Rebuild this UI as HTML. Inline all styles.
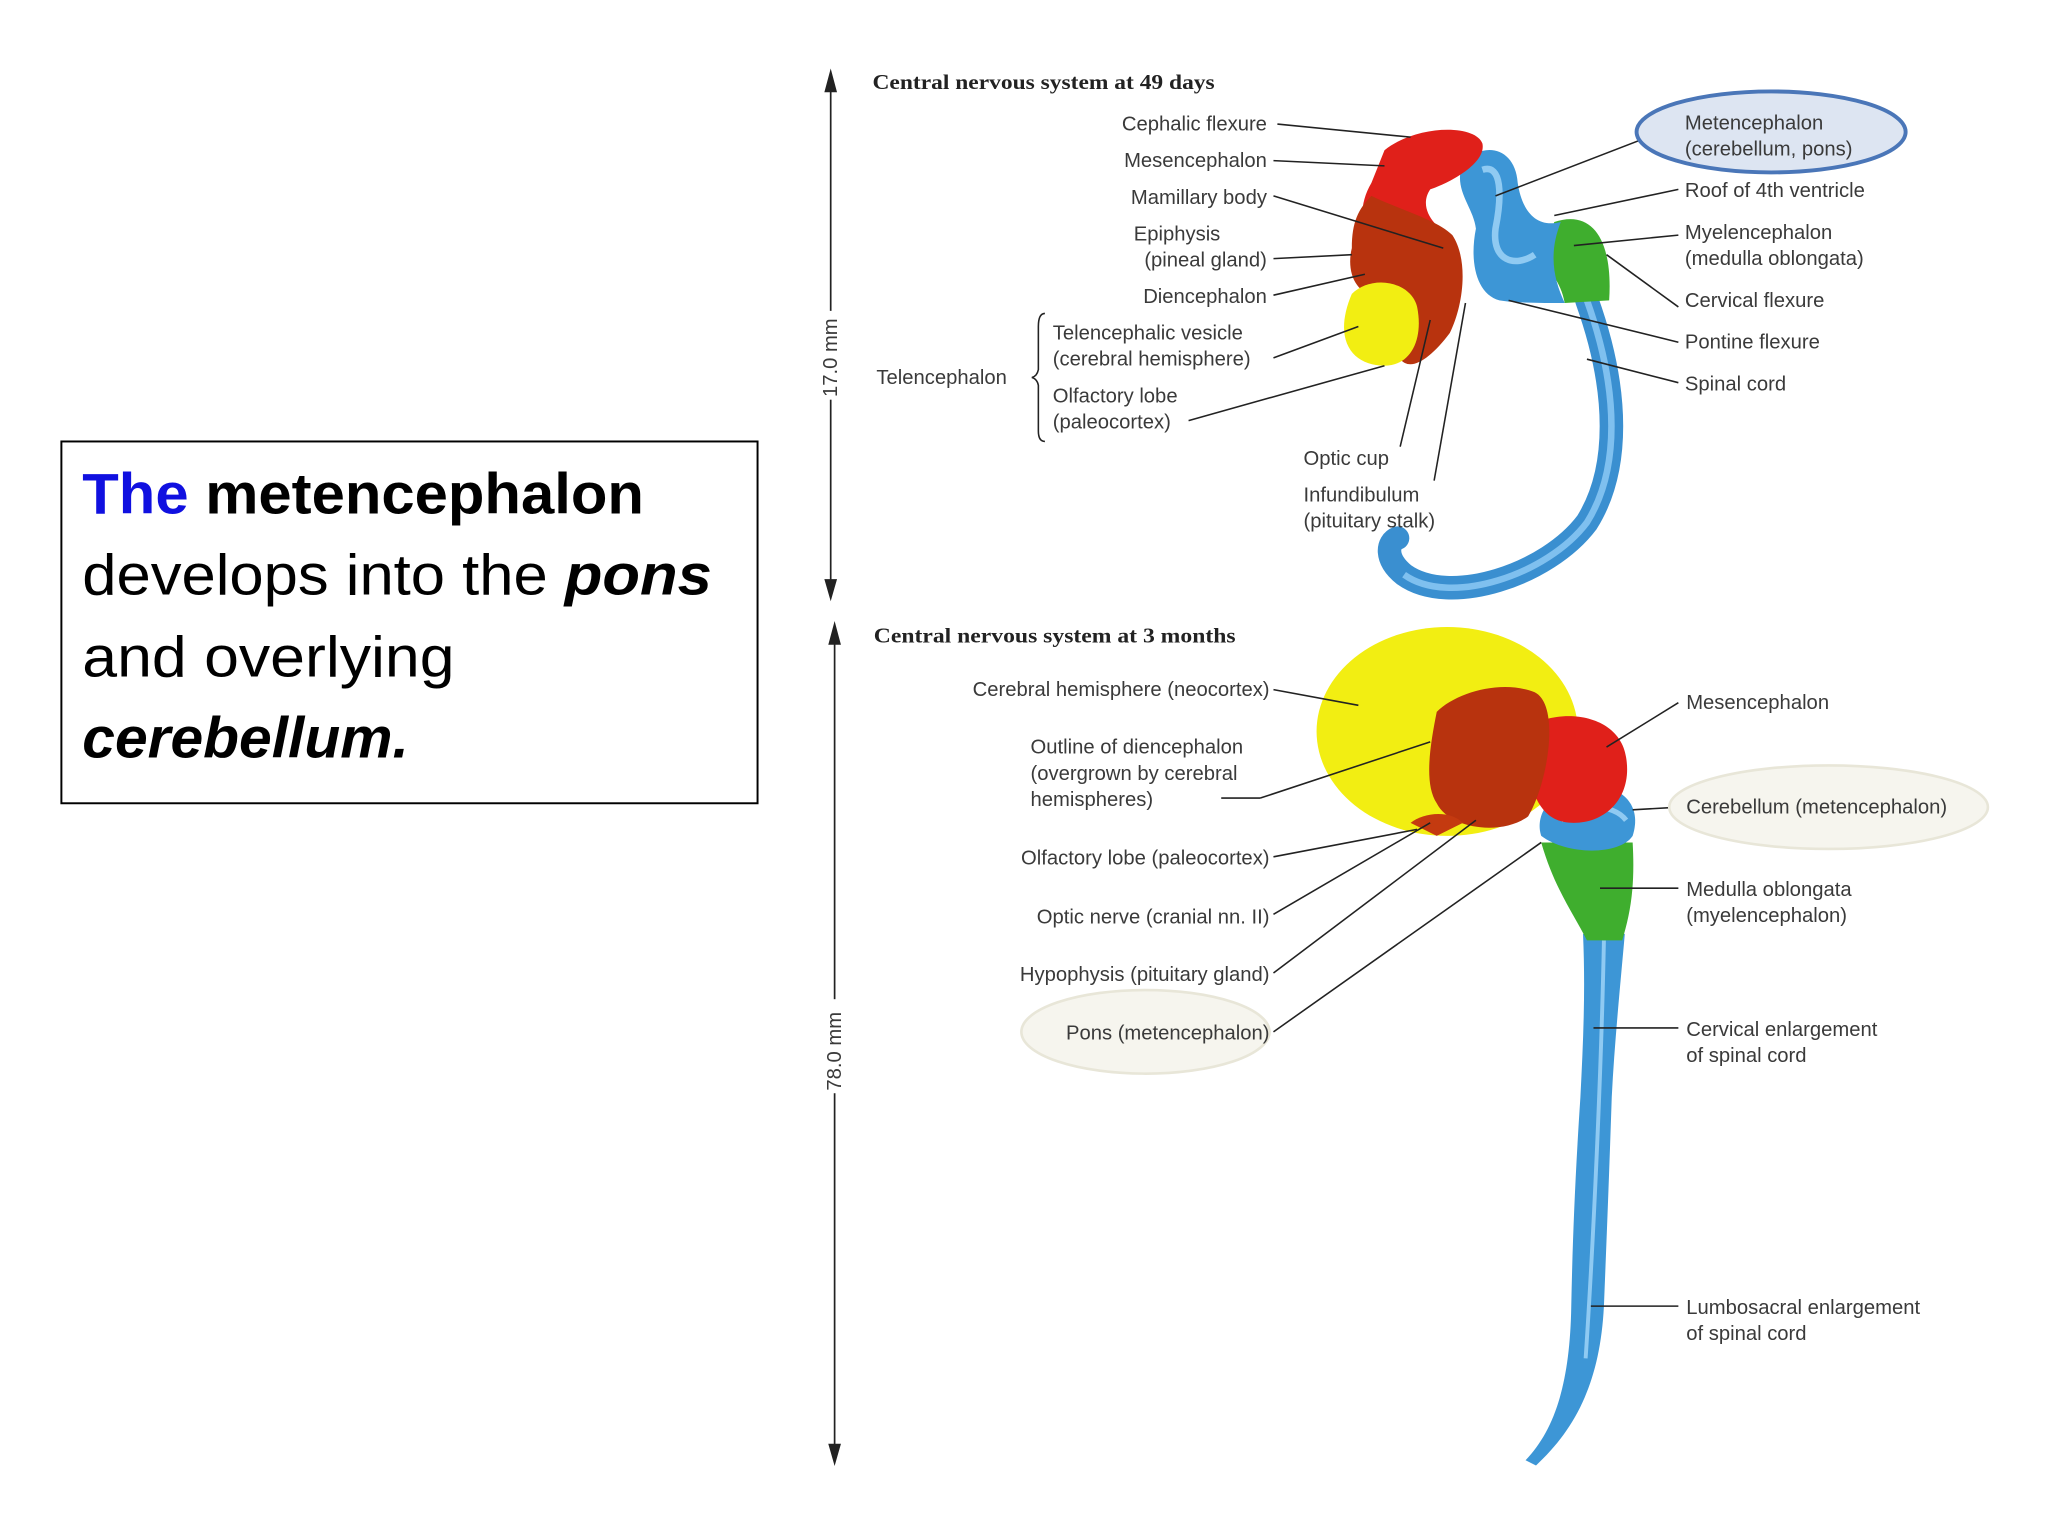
<!DOCTYPE html>
<html><head><meta charset="utf-8"><style>
html,body{margin:0;padding:0;background:#fff;}
svg{display:block}
.l{font-family:"Liberation Sans",sans-serif;font-size:15.5px;fill:#3a3a3a}
.r{text-anchor:end}
.ln{stroke:#222;stroke-width:1.2;fill:none}
</style></head><body>
<svg width="2048" height="1536" viewBox="0 0 1568 1176" xmlns="http://www.w3.org/2000/svg">
<rect width="1568" height="1176" fill="#fff"/>
<rect x="47" y="338" width="533" height="277" fill="#fff" stroke="#000" stroke-width="1.5"/>
<g font-family="Liberation Sans, sans-serif" font-size="44" fill="#000">
<text x="63" y="393" textLength="430" lengthAdjust="spacingAndGlyphs"><tspan fill="#1010e0" font-weight="bold">The</tspan><tspan font-weight="bold"> metencephalon</tspan></text>
<text x="63" y="455" textLength="482" lengthAdjust="spacingAndGlyphs">develops into the <tspan font-weight="bold" font-style="italic">pons</tspan></text>
<text x="63" y="518" textLength="285" lengthAdjust="spacingAndGlyphs">and overlying</text>
<text x="63" y="580" font-weight="bold" font-style="italic" textLength="250" lengthAdjust="spacingAndGlyphs">cerebellum.</text>
</g>
<g stroke="#222" stroke-width="1.3" fill="#222">
<line x1="636" y1="62" x2="636" y2="452"/>
<path d="M636 55 L632 70 L640 70Z"/><path d="M636 458 L632 444 L640 444Z"/>
<line x1="639" y1="486" x2="639" y2="1114"/>
<path d="M639 478 L635 493 L643 493Z"/><path d="M639 1120 L635 1106 L643 1106Z"/>
</g>
<rect x="628" y="238" width="16" height="68" fill="#fff"/>
<text class="l" transform="translate(641,304) rotate(-90)" font-size="14">17.0 mm</text>
<rect x="631" y="765" width="16" height="72" fill="#fff"/>
<text class="l" transform="translate(644,835) rotate(-90)" font-size="14">78.0 mm</text>

<text x="668" y="68" font-family="Liberation Serif,serif" font-weight="bold" font-size="16" fill="#222" textLength="262" lengthAdjust="spacingAndGlyphs">Central nervous system at 49 days</text>
<text x="669" y="492" font-family="Liberation Serif,serif" font-weight="bold" font-size="16" fill="#222" textLength="277" lengthAdjust="spacingAndGlyphs">Central nervous system at 3 months</text>

<!-- TOP FIGURE -->
<path d="M1215 230 C1240 300 1240 360 1215 400 C1185 440 1110 465 1075 440 C1060 428 1062 415 1070 412" stroke="#3a8fd0" stroke-width="18" fill="none" stroke-linecap="round"/>
<path d="M1215 230 C1240 300 1240 360 1215 400 C1185 440 1110 465 1075 440" stroke="#7fc0ef" stroke-width="5" fill="none"/>
<path d="M1190 170 C1220 160 1235 185 1232 230 L1198 232 C1195 215 1185 205 1178 200Z" fill="#3fae2e"/>
<path d="M1120 125 C1135 108 1160 112 1162 140 C1165 160 1175 175 1195 170 C1185 195 1190 215 1198 232 L1210 232 L1200 232 C1180 232 1160 232 1148 230 C1130 225 1125 200 1130 175 C1128 158 1112 145 1120 125Z" fill="#3d96d6"/>
<path d="M1135 130 C1150 125 1150 150 1145 175 C1142 200 1160 205 1175 195" stroke="#8fcaf2" stroke-width="5" fill="none"/>
<path d="M1060 115 C1085 95 1130 95 1135 110 C1138 125 1110 140 1095 145 C1085 160 1100 175 1110 180 L1070 205 C1045 195 1035 165 1050 140Z" fill="#e0201a"/>
<path d="M1050 150 C1070 160 1100 168 1112 180 C1125 200 1120 235 1110 255 C1095 275 1080 285 1072 275 L1060 225 C1040 230 1030 210 1035 190 C1035 170 1040 160 1050 150Z" fill="#b8330e"/>
<path d="M1035 225 C1050 210 1080 215 1085 235 C1090 260 1080 280 1060 280 C1035 280 1020 260 1035 225Z" fill="#f2ee12"/>
<g class="ln">
<line x1="978" y1="95" x2="1080" y2="105"/>
<line x1="975" y1="123" x2="1060" y2="127"/>
<line x1="975" y1="150" x2="1105" y2="190"/>
<line x1="975" y1="198" x2="1035" y2="195"/>
<line x1="975" y1="226" x2="1045" y2="210"/>
<line x1="975" y1="274" x2="1040" y2="250"/>
<line x1="910" y1="322" x2="1060" y2="280"/>
<line x1="1072" y1="342" x2="1095" y2="245"/>
<line x1="1098" y1="368" x2="1122" y2="232"/>
<line x1="1285" y1="96" x2="1145" y2="150"/>
<line x1="1285" y1="145" x2="1190" y2="165"/>
<line x1="1285" y1="180" x2="1205" y2="188"/>
<line x1="1285" y1="235" x2="1230" y2="195"/>
<line x1="1285" y1="262" x2="1155" y2="230"/>
<line x1="1285" y1="293" x2="1215" y2="275"/>
</g>
<path d="M800 240 Q795 240 795 250 L795 283 Q794 288 790 289 Q794 290 795 295 L795 330 Q795 338 800 338" class="ln"/>
<text class="l r" x="970" y="100">Cephalic flexure</text>
<text class="l r" x="970" y="128">Mesencephalon</text>
<text class="l r" x="970" y="156">Mamillary body</text>
<text class="l" x="868" y="184">Epiphysis</text>
<text class="l r" x="970" y="204">(pineal gland)</text>
<text class="l r" x="970" y="232">Diencephalon</text>
<text class="l" x="806" y="260">Telencephalic vesicle</text>
<text class="l" x="806" y="280">(cerebral hemisphere)</text>
<text class="l" x="806" y="308">Olfactory lobe</text>
<text class="l" x="806" y="328">(paleocortex)</text>
<text class="l" x="671" y="294">Telencephalon</text>
<text class="l" x="998" y="356">Optic cup</text>
<text class="l" x="998" y="384">Infundibulum</text>
<text class="l" x="998" y="404">(pituitary stalk)</text>
<ellipse cx="1356" cy="101" rx="103" ry="31" fill="#dde5f2" stroke="#4a76b8" stroke-width="3"/>
<text class="l" x="1290" y="99">Metencephalon</text>
<text class="l" x="1290" y="119">(cerebellum, pons)</text>
<text class="l" x="1290" y="151">Roof of 4th ventricle</text>
<text class="l" x="1290" y="183">Myelencephalon</text>
<text class="l" x="1290" y="203">(medulla oblongata)</text>
<text class="l" x="1290" y="235">Cervical flexure</text>
<text class="l" x="1290" y="267">Pontine flexure</text>
<text class="l" x="1290" y="299">Spinal cord</text>

<!-- BOTTOM FIGURE -->
<path d="M1212 715 C1214 760 1212 800 1210 840 C1206 900 1204 950 1203 1000 C1202 1060 1190 1095 1168 1118 L1176 1122 C1205 1095 1225 1060 1228 1000 C1230 950 1232 900 1234 840 C1236 800 1240 760 1244 715Z" fill="#3d96d6"/>
<path d="M1228 720 C1226 820 1220 950 1214 1040" stroke="#8fcaf2" stroke-width="3" fill="none"/>
<path d="M1180 645 L1250 645 C1252 680 1248 700 1242 720 L1215 720 C1205 700 1190 680 1180 645Z" fill="#3fae2e"/>
<ellipse cx="1108" cy="560" rx="100" ry="80" fill="#f2ee12"/>
<path d="M1180 640 C1175 625 1185 605 1215 602 C1240 600 1258 615 1250 640 C1240 655 1200 655 1180 640Z" fill="#3d96d6"/>
<path d="M1195 628 C1210 615 1235 615 1245 628" stroke="#8fcaf2" stroke-width="4" fill="none"/>
<path d="M1165 560 C1190 540 1240 545 1245 580 C1250 610 1230 630 1205 630 C1180 630 1170 610 1165 560Z" fill="#e0201a"/>
<path d="M1100 545 C1115 530 1150 520 1175 530 C1195 540 1185 600 1170 625 C1150 640 1110 635 1100 615 C1090 600 1095 570 1100 545Z" fill="#b8330e"/>
<path d="M1080 630 C1090 622 1110 620 1120 630 L1100 640Z" fill="#c43a10"/>
<g class="ln">
<line x1="975" y1="528" x2="1040" y2="540"/>
<line x1="935" y1="611" x2="965" y2="611"/>
<line x1="965" y1="611" x2="1095" y2="568"/>
<line x1="975" y1="656" x2="1085" y2="635"/>
<line x1="975" y1="700" x2="1095" y2="630"/>
<line x1="975" y1="745" x2="1130" y2="628"/>
<line x1="975" y1="790" x2="1180" y2="645"/>
<line x1="1285" y1="538" x2="1230" y2="572"/>
<line x1="1285" y1="618" x2="1250" y2="620"/>
<line x1="1285" y1="680" x2="1225" y2="680"/>
<line x1="1285" y1="787" x2="1220" y2="787"/>
<line x1="1285" y1="1000" x2="1218" y2="1000"/>
</g>
<ellipse cx="877" cy="790" rx="95" ry="32" fill="#f6f5ee" stroke="#e8e6d8" stroke-width="2"/>
<ellipse cx="1400" cy="618" rx="122" ry="32" fill="#f6f5ee" stroke="#e8e6d8" stroke-width="2"/>
<text class="l r" x="972" y="533">Cerebral hemisphere (neocortex)</text>
<text class="l" x="789" y="577">Outline of diencephalon</text>
<text class="l" x="789" y="597">(overgrown by cerebral</text>
<text class="l" x="789" y="617">hemispheres)</text>
<text class="l r" x="972" y="662">Olfactory lobe (paleocortex)</text>
<text class="l r" x="972" y="707">Optic nerve (cranial nn. II)</text>
<text class="l r" x="972" y="751">Hypophysis (pituitary gland)</text>
<text class="l r" x="972" y="796" fill="#555">Pons (metencephalon)</text>
<text class="l" x="1291" y="543">Mesencephalon</text>
<text class="l" x="1291" y="623" fill="#555">Cerebellum (metencephalon)</text>
<text class="l" x="1291" y="686">Medulla oblongata</text>
<text class="l" x="1291" y="706">(myelencephalon)</text>
<text class="l" x="1291" y="793">Cervical enlargement</text>
<text class="l" x="1291" y="813">of spinal cord</text>
<text class="l" x="1291" y="1006">Lumbosacral enlargement</text>
<text class="l" x="1291" y="1026">of spinal cord</text>
</svg>
</body></html>
